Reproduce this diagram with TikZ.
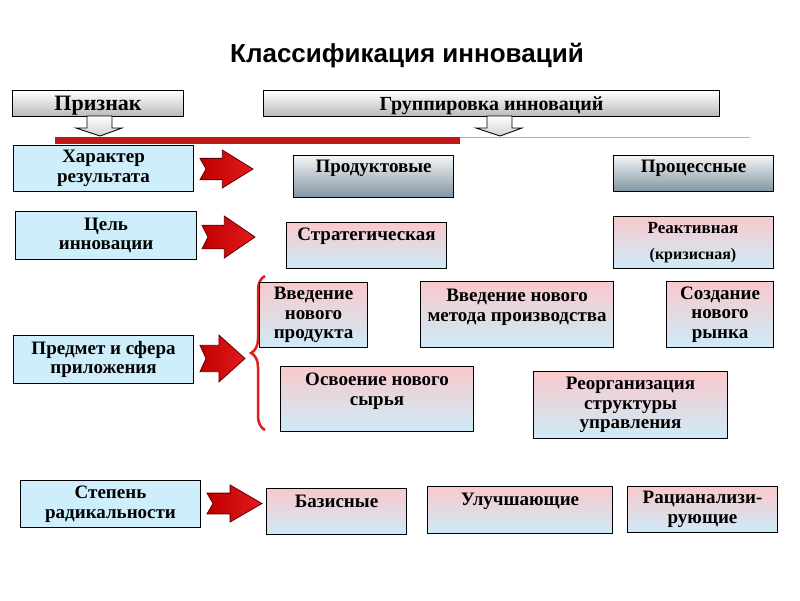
\documentclass[tikz,border=0pt]{standalone}
\usepackage{fontspec}
\setmainfont{Liberation Serif}
\newfontfamily\titlefont{Liberation Sans}
\usetikzlibrary{decorations.pathreplacing,calc}
\definecolor{lblue}{HTML}{CDEEFA}
\definecolor{pinkc}{HTML}{F9C9CC}
\definecolor{bluec}{HTML}{CDEBF8}
\definecolor{steel}{HTML}{7F95A3}
\definecolor{redc}{HTML}{E31B1B}
\tikzset{
 base/.style={draw=black,line width=1.1pt,inner sep=0pt},
 tx/.style={font=\bfseries\fontsize{19}{19.5}\selectfont,align=center,inner sep=0pt},
 hdr/.style={base,top color=white,bottom color=gray!55},
 lbox/.style={base,fill=lblue},
 pbox/.style={base,top color=pinkc,bottom color=bluec},
 gbox/.style={base,top color=gray!8,bottom color=steel},
 rarr/.style={draw=red!40!black,line width=0.8pt,left color=red!75!black,right color=redc},
 warr/.style={draw=black,line width=0.9pt,top color=white,bottom color=gray!35},
}
\newcommand{\bx}[6]{\node[#1,minimum width=#4-#2,minimum height=#5-#3,anchor=north west] (#6) at (#2,#3) {};}
% red arrow: x0, ytop, x1, ybottom
\newcommand{\rarrow}[4]{\path[rarr] (#1,{#2+0.22*(#4-#2)}) -- ({#1+0.42*(#3-#1)},{#2+0.22*(#4-#2)}) -- ({#1+0.42*(#3-#1)},#2) -- (#3,{(#2+#4)/2}) -- ({#1+0.42*(#3-#1)},#4) -- ({#1+0.42*(#3-#1)},{#4-0.22*(#4-#2)}) -- (#1,{#4-0.22*(#4-#2)}) -- ({#1+6},{(#2+#4)/2}) -- cycle;}
\newcommand{\warrow}[1]{\path[warr] ({#1-13},116) -- ({#1+12},116) -- ({#1+12},128) -- ({#1+22},128) -- ({#1},136) -- ({#1-24},128) -- ({#1-13},128) -- cycle;}
\begin{document}
\begin{tikzpicture}[x=1pt,y=-1pt]
\useasboundingbox (0,0) rectangle (800,600);
\fill[white] (0,0) rectangle (800,600);
\node[font=\titlefont\bfseries\fontsize{26}{28}\selectfont] (title) at (407,56) {Классификация инноваций};
% headers
\bx{hdr}{12}{90}{183}{116}{h1}
\node[tx,font=\bfseries\fontsize{22}{22}\selectfont] at ($(h1)+(0,2)$) {Признак};
\bx{hdr}{263}{90}{719}{116}{h2}
\node[tx,font=\bfseries\fontsize{20}{22}\selectfont] at ($(h2)+(0,2)$) {Группировка инноваций};
\warrow{100}
\warrow{500}
\draw[gray!60,line width=0.6pt] (460,137) -- (750,137);
\draw[redc!85!black,line width=7pt] (55,140) -- (460,140);
% rows
\bx{lbox}{13}{145}{193}{191}{a1}
\node[tx] at (a1) {Характер\\результата};
\rarrow{200}{150}{253}{188}
\bx{gbox}{293}{155}{453}{197}{p1}
\node[tx,anchor=north] at ($(p1.north)+(0,5)$) {Продуктовые};
\bx{gbox}{613}{155}{773}{191}{p2}
\node[tx,anchor=north] at ($(p2.north)+(0,5)$) {Процессные};

\bx{lbox}{15}{211}{196}{259}{a2}
\node[tx] at (a2) {Цель\\инновации};
\rarrow{202}{216}{255}{258}
\bx{pbox}{286}{222}{446}{268}{s1}
\node[tx,anchor=north] at ($(s1.north)+(0,6)$) {Стратегическая};
\bx{pbox}{613}{216}{773}{268}{s2}
\node[tx,font=\bfseries\fontsize{17}{18}\selectfont] at (693,228) {Реактивная};
\node[tx,font=\bfseries\fontsize{16}{17}\selectfont] at (693,256) {(кризисная)};

\bx{lbox}{13}{335}{193}{383}{a3}
\node[tx] at (a3) {Предмет и сфера\\приложения};
\rarrow{200}{335}{245}{382}
\draw[decorate,decoration={brace,amplitude=14pt},redc,line width=2.5pt] (265,430) -- (265,276);
\bx{pbox}{259}{282}{367}{347}{m1}
\node[tx] at (m1) {Введение\\нового\\продукта};
\bx{pbox}{420}{281}{613}{347}{m2}
\node[tx,anchor=north] at ($(m2.north)+(0,8)$) {Введение нового\\метода производства};
\bx{pbox}{666}{281}{773}{347}{m3}
\node[tx] at (m3) {Создание\\нового\\рынка};
\bx{pbox}{280}{366}{473}{431}{m4}
\node[tx,anchor=north] at ($(m4.north)+(0,7)$) {Освоение нового\\сырья};
\bx{pbox}{533}{371}{727}{438}{m5}
\node[tx] at (m5) {Реорганизация\\структуры\\управления};

\bx{lbox}{20}{480}{200}{527}{a4}
\node[tx] at (a4) {Степень\\радикальности};
\rarrow{207}{485}{262}{522}
\bx{pbox}{266}{488}{406}{534}{b1}
\node[tx,anchor=north] at ($(b1.north)+(0,7)$) {Базисные};
\bx{pbox}{427}{486}{612}{533}{b2}
\node[tx,anchor=north] at ($(b2.north)+(0,7)$) {Улучшающие};
\bx{pbox}{627}{486}{777}{532}{b3}
\node[tx,anchor=north] at ($(b3.north)+(0,5)$) {Рацианализи-\\рующие};
\end{tikzpicture}
\end{document}
